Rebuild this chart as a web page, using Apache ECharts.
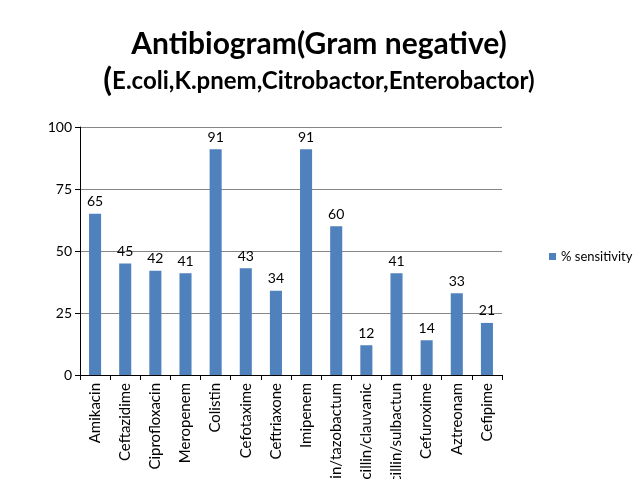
<!DOCTYPE html>
<html><head><meta charset="utf-8">
<script src="https://cdn.jsdelivr.net/npm/echarts@6/dist/echarts.min.js"></script>
<style>html,body{margin:0;padding:0;background:#fff}#c{width:638px;height:479px}</style>
</head><body><div id="c"></div>
<script>
const categories = ["Amikacin","Ceftazidime","Ciprofloxacin","Meropenem","Colistin","Cefotaxime","Ceftriaxone","Imipenem","Piperacillin/tazobactum","Amoxycillin/clauvanic","Ampicillin/sulbactun","Cefuroxime","Aztreonam","Cefipime"];
const sensitivity = [65,45,42,41,91,43,34,91,60,12,41,14,33,21];
const yTicks = [0,25,50,75,100];
const seriesName = "% sensitivity";
const font = "Lato, 'Open Sans', sans-serif";
const chart = echarts.init(document.getElementById('c'));
chart.setOption({
  animation:false,
  title:{
    text:"Antibiogram(Gram negative)",
    subtext:"{p|(}E.coli,K.pnem,Citrobactor,Enterobactor)",
    left:'center', top:24, itemGap:6,
    textStyle:{fontFamily:font,fontSize:30,fontWeight:'bold',color:'#000'},
    subtextStyle:{fontFamily:font,fontSize:24,fontWeight:'bold',color:'#000',
      rich:{p:{fontFamily:font,fontSize:32,fontWeight:'bold',color:'#000'}}}
  },
  legend:{
    orient:'vertical', left:544, top:245, itemWidth:7, itemHeight:7, itemGap:4,
    textStyle:{fontFamily:font,fontSize:13,color:'#000'},
    data:[{name:seriesName,icon:'rect'}]
  },
  grid:{left:80,top:127,right:136,bottom:104,containLabel:false,outerBoundsMode:'none'},
  xAxis:{
    type:'category', data:categories,
    axisLine:{lineStyle:{color:'#000',width:1}},
    axisTick:{show:true,length:5,lineStyle:{color:'#000'}},
    axisLabel:{rotate:90,interval:0,fontFamily:font,fontSize:15,color:'#000',margin:8}
  },
  yAxis:{
    type:'value', min:0, max:100, interval:25,
    axisLine:{show:true,lineStyle:{color:'#000'}},
    axisTick:{show:true,length:5,lineStyle:{color:'#000'}},
    axisLabel:{fontFamily:font,fontSize:14,color:'#000',margin:8,
      formatter:v=>yTicks.includes(v)?String(v):''},
    splitLine:{lineStyle:{color:'#868686',width:1}}
  },
  series:[{
    name:seriesName, type:'bar', data:sensitivity, barWidth:'40%',
    itemStyle:{color:'#4f81bd'},
    label:{show:true,position:'top',distance:5,fontFamily:font,fontSize:14,color:'#000'}
  }]
});
</script></body></html>
